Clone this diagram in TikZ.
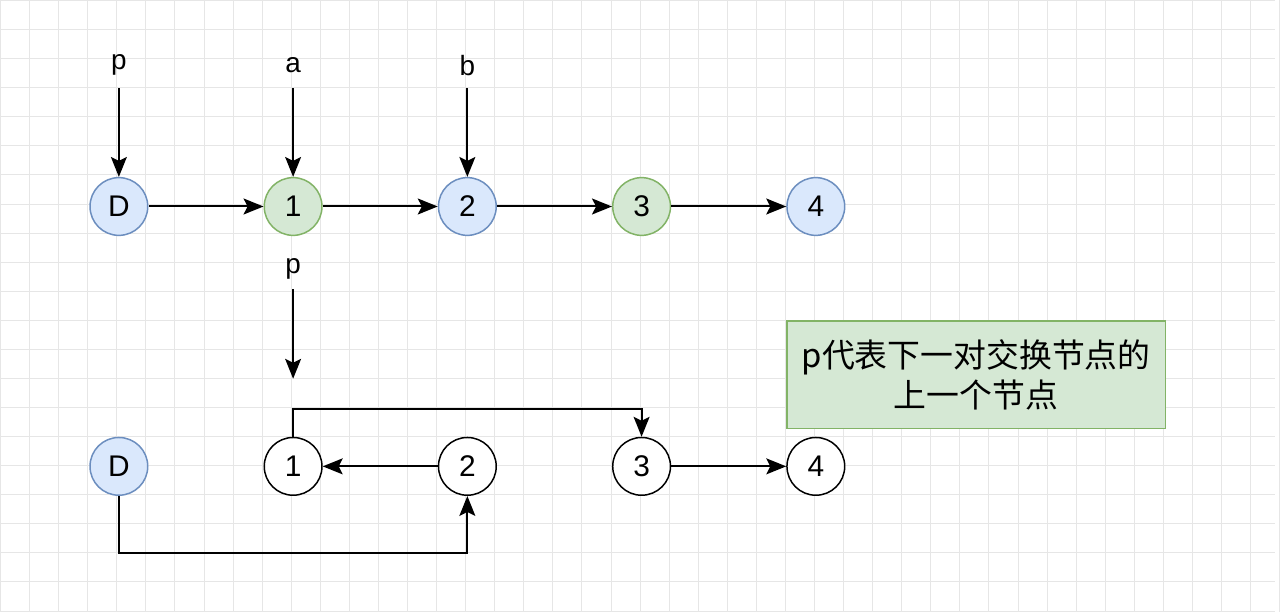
\documentclass[tikz,border=0pt]{standalone}
\usepackage{fontspec}
\setmainfont{Liberation Sans}
\newfontfamily\cjk{Noto Sans CJK SC}
\usetikzlibrary{arrows.meta}
\definecolor{bfill}{HTML}{DAE8FC}\definecolor{bline}{HTML}{6C8EBF}
\definecolor{gfill}{HTML}{D5E8D4}\definecolor{gline}{HTML}{82B366}
\definecolor{gridc}{HTML}{E6E6E6}
\begin{document}
\begin{tikzpicture}[x=1pt,y=-1pt,
 nd/.style={circle,draw,line width=1.5pt,minimum size=58pt,inner sep=0pt,font=\fontsize{30}{32}\selectfont},
 bl/.style={nd,fill=bfill,draw=bline},
 gr/.style={nd,fill=gfill,draw=gline},
 wh/.style={nd,fill=white,draw=black},
 lb/.style={font=\fontsize{28}{30}\selectfont},
 ar/.style={line width=2pt,-{Stealth[length=20pt,width=16pt,inset=4pt]}}]
\fill[white] (0,0) rectangle (1280,614);
\foreach \i in {0,...,44} \draw[gridc,line width=0.8pt] (\i*29.2,0) -- (\i*29.2,614);
\foreach \i in {0,...,21} \draw[gridc,line width=0.8pt] (0,\i*29.2) -- (1280,\i*29.2);
\useasboundingbox (0,0) rectangle (1280,614);
\node[bl] (D) at (119,207) {D};
\node[gr] (n1) at (294,207) {1};
\node[bl] (n2) at (469,207) {2};
\node[gr] (n3) at (644,207) {3};
\node[bl] (n4) at (819,207) {4};
\draw[ar] (D) -- (n1); \draw[ar] (n1) -- (n2); \draw[ar] (n2) -- (n3); \draw[ar] (n3) -- (n4);
\node[lb] (p) at (119,65) {p}; \node[lb] (a) at (294,65) {a}; \node[lb] (b) at (469,65) {b};
\draw[ar] (119,88) -- (D); \draw[ar] (294,88) -- (n1); \draw[ar] (469,88) -- (n2);
\node[lb] (p2) at (294,270) {p};
\coordinate (pe) at (294,380);
\draw[ar] (294,290) -- (pe);
\node[bl] (E) at (119,468) {D};
\node[wh] (m1) at (294,468) {1};
\node[wh] (m2) at (469,468) {2};
\node[wh] (m3) at (644,468) {3};
\node[wh] (m4) at (819,468) {4};
\draw[ar] (m2) -- (m1); \draw[ar] (m3) -- (m4);
\draw[ar] (m1.north) -- (294,410) -- (644,410) -- (m3.north);
\draw[ar] (E.south) -- (119,555) -- (469,555) -- (m2.south);
\node[draw=gline,fill=gfill,line width=1.5pt,minimum width=380pt,minimum height=108pt,align=center,
 font=\cjk\fontsize{33}{40}\selectfont] (note) at (980,376) {p代表下一对交换节点的\\上一个节点};
\end{tikzpicture}
\end{document}
